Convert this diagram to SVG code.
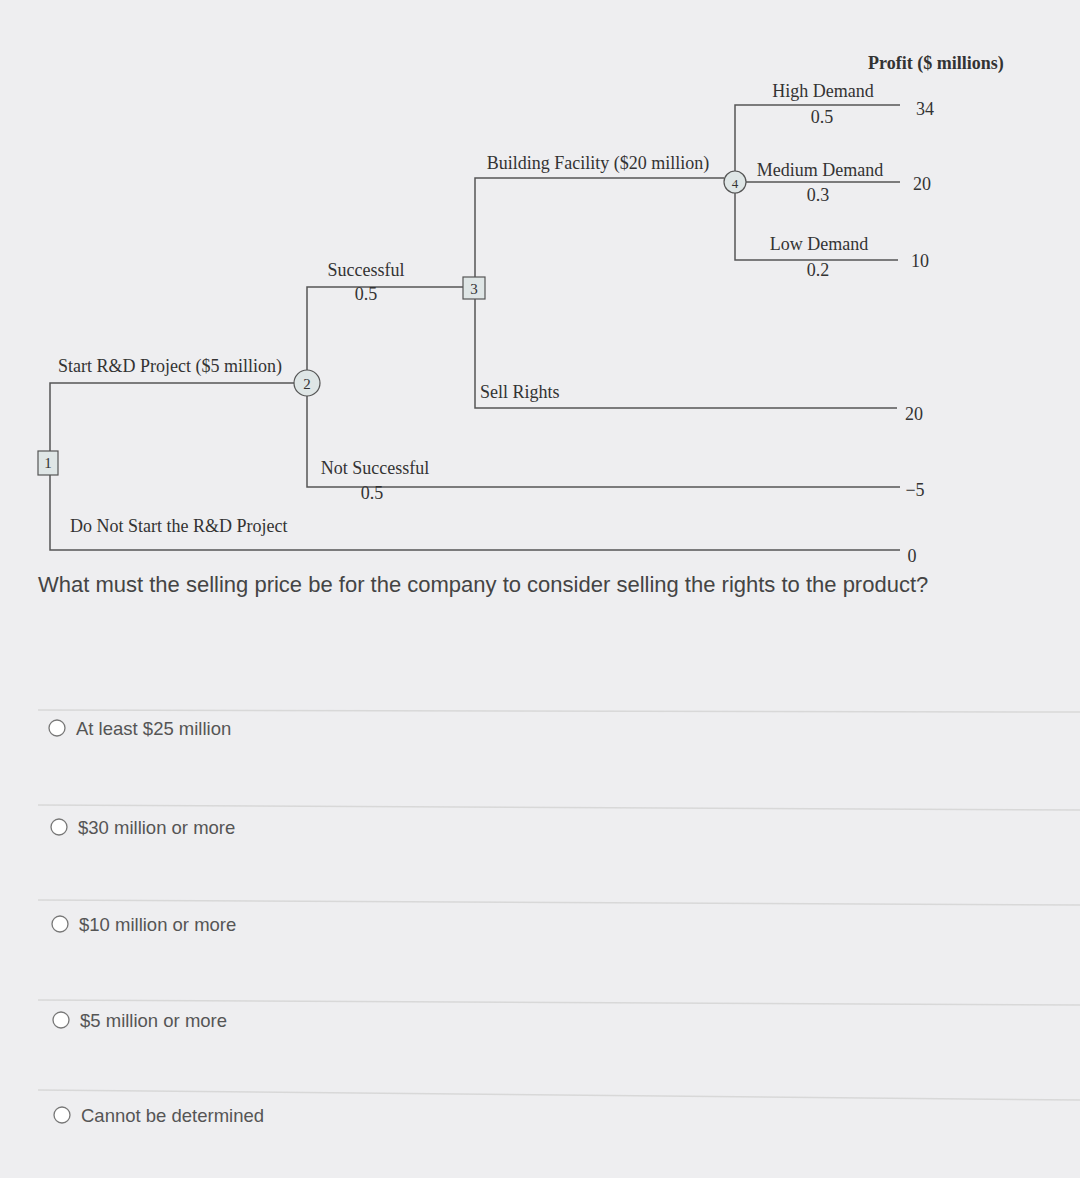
<svg xmlns="http://www.w3.org/2000/svg" width="1080" height="1178" viewBox="0 0 1080 1178">
<style>
.t{font-family:"Liberation Serif",serif;font-size:18px;fill:#333}
.c{text-anchor:middle}
.l{stroke:#555;stroke-width:1.5;fill:none}
.n{fill:#dfe6e6;stroke:#555;stroke-width:1.2}
.q{font-family:"Liberation Sans",sans-serif;font-size:22px;fill:#444}
.o{font-family:"Liberation Sans",sans-serif;font-size:18.5px;fill:#555}
.r{fill:#fff;stroke:#777;stroke-width:1.3}
.s{stroke:#d8d8d8;stroke-width:1.5}
</style>
<rect width="1080" height="1178" fill="#eeeef0"/>
<g id="connectors">
<path class="l" d="M50 451V383H296"/>
<path class="l" d="M50 475V550H900"/>
<path class="l" d="M307 370V287H463"/>
<path class="l" d="M307 396V487H900"/>
<path class="l" d="M475 277V178H724"/>
<path class="l" d="M475 299V408H897"/>
<path class="l" d="M735 171V105H900"/>
<path class="l" d="M746 182H900"/>
<path class="l" d="M735 193V260H898"/>
</g>
<g id="node1"><rect class="n" x="38" y="451" width="20" height="24"/><text class="t c" x="48" y="468" style="font-size:15px">1</text></g>
<g id="node2"><circle class="n" cx="307" cy="383" r="13"/><text class="t c" x="307" y="389" style="font-size:15px">2</text></g>
<g id="node3"><rect class="n" x="463" y="277" width="22" height="22"/><text class="t c" x="474" y="294" style="font-size:15px">3</text></g>
<g id="node4"><circle class="n" cx="735" cy="182" r="11"/><text class="t c" x="735" y="188" style="font-size:13px">4</text></g>
<g id="labels">
<text class="t" x="58" y="372">Start R&amp;D Project ($5 million)</text>
<text class="t" x="70" y="532">Do Not Start the R&amp;D Project</text>
<text class="t c" x="366" y="276">Successful</text><text class="t c" x="366" y="300">0.5</text>
<text class="t c" x="375" y="474">Not Successful</text><text class="t c" x="372" y="499">0.5</text>
<text class="t c" x="598" y="169">Building Facility ($20 million)</text>
<text class="t" x="480" y="398">Sell Rights</text>
<text class="t c" x="823" y="97">High Demand</text><text class="t c" x="822" y="123">0.5</text>
<text class="t c" x="820" y="176">Medium Demand</text><text class="t c" x="818" y="201">0.3</text>
<text class="t c" x="819" y="250">Low Demand</text><text class="t c" x="818" y="276">0.2</text>
<text class="t" x="868" y="69" style="font-weight:bold">Profit ($ millions)</text>
<text class="t c" x="925" y="115">34</text><text class="t c" x="922" y="190">20</text><text class="t c" x="920" y="267">10</text>
<text class="t c" x="914" y="420">20</text><text class="t c" x="915" y="496">−5</text><text class="t c" x="912" y="562">0</text>
</g>
<text class="q" x="38" y="592">What must the selling price be for the company to consider selling the rights to the product?</text>
<g id="options">
<line class="s" x1="38" y1="710" x2="1080" y2="712"/>
<line class="s" x1="38" y1="805" x2="1080" y2="810"/>
<line class="s" x1="38" y1="900" x2="1080" y2="905"/>
<line class="s" x1="38" y1="1000" x2="1080" y2="1005"/>
<line class="s" x1="38" y1="1090" x2="1080" y2="1100"/>
<circle class="r" cx="57" cy="728" r="8"/><text class="o" x="76" y="735">At least $25 million</text>
<circle class="r" cx="59" cy="827" r="8"/><text class="o" x="78" y="834">$30 million or more</text>
<circle class="r" cx="60" cy="924" r="8"/><text class="o" x="79" y="931">$10 million or more</text>
<circle class="r" cx="61" cy="1020" r="8"/><text class="o" x="80" y="1027">$5 million or more</text>
<circle class="r" cx="62" cy="1115" r="8"/><text class="o" x="81" y="1122">Cannot be determined</text>
</g>
</svg>
